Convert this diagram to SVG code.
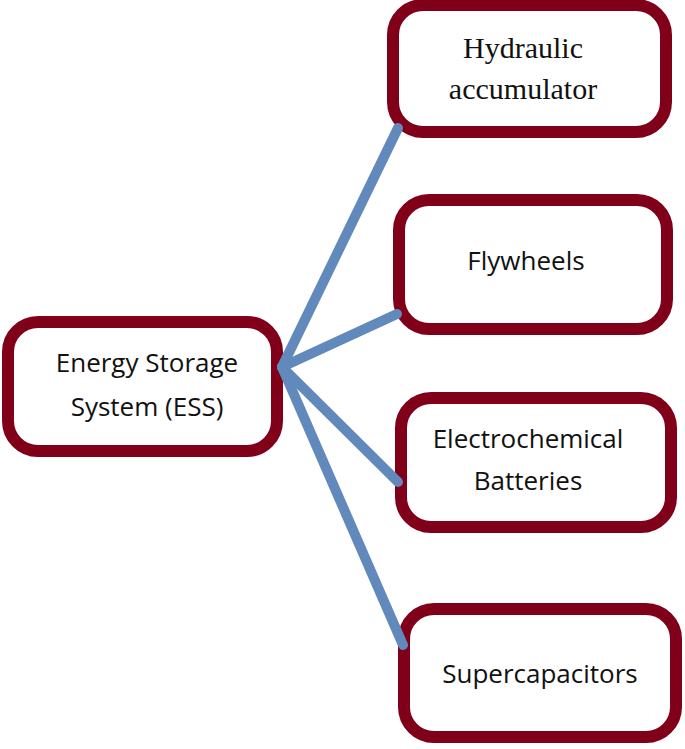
<svg xmlns="http://www.w3.org/2000/svg" width="685" height="749" viewBox="0 0 685 749">
<style>
.box{fill:#fff;stroke:#80001a;stroke-width:12}
.lbl{font-family:"Open Sans","Liberation Sans",sans-serif;font-size:26px;fill:#111;text-anchor:middle}
.ser{font-family:"Liberation Serif","Times New Roman",serif;font-size:30px;fill:#111;text-anchor:middle}
.con{stroke:#6189bc;stroke-width:10;stroke-linecap:round;fill:none}
</style>
<rect width="685" height="749" fill="#fff"/>
<g id="ess">
<rect class="box" x="8" y="322" width="269" height="129" rx="30"/>
<text class="lbl" x="147" y="372">Energy Storage</text>
<text class="lbl" x="147" y="416">System (ESS)</text>
</g>
<g id="hydraulic">
<rect class="box" x="393" y="5" width="273" height="127" rx="30"/>
<text class="ser" x="523" y="58">Hydraulic</text>
<text class="ser" x="523" y="99">accumulator</text>
</g>
<g id="flywheels">
<rect class="box" x="399" y="200" width="268" height="129" rx="30"/>
<text class="lbl" x="526" y="270">Flywheels</text>
</g>
<g id="batteries">
<rect class="box" x="401" y="398" width="270" height="129" rx="30"/>
<text class="lbl" x="528" y="448">Electrochemical</text>
<text class="lbl" x="528" y="490">Batteries</text>
</g>
<g id="supercapacitors">
<rect class="box" x="404" y="609" width="272" height="128" rx="30"/>
<text class="lbl" x="540" y="683">Supercapacitors</text>
</g>
<g id="connectors">
<line class="con" x1="282" y1="367" x2="398" y2="128"/>
<line class="con" x1="282" y1="367" x2="397" y2="314"/>
<line class="con" x1="282" y1="367" x2="398" y2="482"/>
<line class="con" x1="282" y1="367" x2="403" y2="645"/>
</g>
</svg>
